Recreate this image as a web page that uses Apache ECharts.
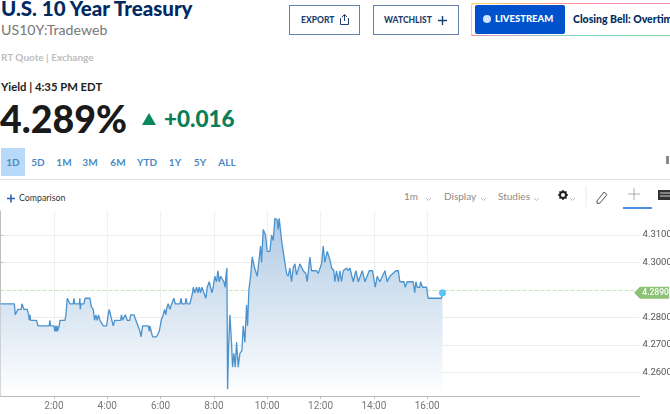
<!DOCTYPE html>
<html>
<head>
<meta charset="utf-8">
<script src="https://cdn.jsdelivr.net/npm/echarts@6/dist/echarts.min.js"></script>
<style>
html, body { margin: 0; padding: 0; background: #fff; }
body { width: 670px; height: 414px; overflow: hidden; position: relative; font-family: Lato, sans-serif; }
.t { position: absolute; white-space: nowrap; line-height: 1; }
.btn { position: absolute; top: 5px; height: 28px; border: 1px solid #5f81aa; box-sizing: content-box; }
.tab { position: absolute; top: 157px; width: 30px; margin-left: -15px; text-align: center; font-size: 10px; font-weight: 700; color: #4a8ac4; line-height: 1; }
.menu { position: absolute; top: 191px; font-size: 10px; color: #8a8a8a; line-height: 1; white-space: nowrap; }
svg { position: absolute; overflow: visible; }
#chart { position: absolute; left: 0; top: 205px; width: 670px; height: 209px; }
</style>
</head>
<body>
<div class="t" style="left:1px;top:-2px;font-size:20.5px;font-weight:900;color:#012a62">U.S. 10 Year Treasury</div>
<div class="t" style="left:1px;top:23px;font-size:14.2px;color:#777">US10Y:Tradeweb</div>
<div class="t" style="left:1px;top:52px;font-size:10px;font-weight:700;color:#bdbdbd">RT Quote | Exchange</div>
<div class="t" style="left:1px;top:81px;font-size:11.3px;font-weight:700;color:#222">Yield | 4:35 PM EDT</div>
<div class="t" style="left:0;top:100px;font-size:37.5px;font-weight:900;color:#1a1a1a">4.289%</div>
<svg style="left:0;top:0" width="1" height="1"><path d="M142 125 L149 113 L156 125 Z" fill="#0a8a5c"/></svg>
<div class="t" style="left:164px;top:108px;font-size:22.5px;font-weight:900;color:#0b7e58">+0.016</div>

<div style="position:absolute;left:1px;top:148px;width:24px;height:28px;background:#b8d9f8"></div>
<div class="tab" style="left:13px">1D</div>
<div class="tab" style="left:38px">5D</div>
<div class="tab" style="left:64px">1M</div>
<div class="tab" style="left:90px">3M</div>
<div class="tab" style="left:118px">6M</div>
<div class="tab" style="left:147px">YTD</div>
<div class="tab" style="left:175px">1Y</div>
<div class="tab" style="left:200px">5Y</div>
<div class="tab" style="left:227px">ALL</div>
<div style="position:absolute;left:0;top:179px;width:670px;height:1px;background:#dedede"></div>

<div class="btn" style="left:289px;width:69px"></div>
<div class="t" style="left:301px;top:16px;font-size:8.5px;font-weight:900;color:#1f3f6e">EXPORT</div>
<svg style="left:0;top:0" width="1" height="1"><path d="M340.5 18 V24.5 H348.5 V18 M344.5 21 V14.5 M342 17 L344.5 14.5 L347 17" fill="none" stroke="#1f3f6e" stroke-width="1"/></svg>
<div class="btn" style="left:373px;width:84px"></div>
<div class="t" style="left:384px;top:16px;font-size:8.5px;font-weight:900;color:#1f3f6e">WATCHLIST</div>
<svg style="left:0;top:0" width="1" height="1"><path d="M442.5 16 V25 M438 20.5 H447" fill="none" stroke="#1f3f6e" stroke-width="1.4"/></svg>

<div style="position:absolute;left:471px;top:3px;width:205px;height:33px;border-radius:3px;padding:1px;box-sizing:border-box;background:linear-gradient(100deg,#ffcf5c,#ff8f9f 50%,#e98fc0);"><div style="width:100%;height:100%;background:#fff;border-radius:2px"></div></div>
<div style="position:absolute;left:471px;top:35px;width:199px;height:1px;background:linear-gradient(90deg,#e98fc0,#7fd4c4 50%,#8fdc9c)"></div>
<div style="position:absolute;left:475px;top:5px;width:90px;height:29px;background:#0052cc;border-radius:2px"></div>
<div style="position:absolute;left:483px;top:15px;width:8px;height:8px;border-radius:50%;background:#cfe2ff"></div>
<div class="t" style="left:495px;top:14px;font-size:9.5px;font-weight:900;color:#fff">LIVESTREAM</div>
<div class="t" style="left:573px;top:14px;font-size:10.5px;font-weight:900;color:#012a62">Closing Bell: Overtime</div>

<svg style="left:0;top:0" width="1" height="1">
  <path d="M7 198.5 H15 M11 194.5 V202.5" stroke="#2b62b8" stroke-width="1.6" fill="none"/>
  <path d="M426 198 L428.5 200.5 L431 198 M481 198 L483.5 200.5 L486 198 M534 198 L536.5 200.5 L539 198 M570 198 L572.5 200.5 L575 198" stroke="#aaa" stroke-width="0.8" fill="none"/>
  <circle cx="563" cy="195" r="3" fill="none" stroke="#222" stroke-width="2"/>
  <path d="M563 190 V192 M563 198 V200 M558 195 H560 M566 195 H568 M559.5 191.5 L560.8 192.8 M566.5 191.5 L565.2 192.8 M559.5 198.5 L560.8 197.2 M566.5 198.5 L565.2 197.2" stroke="#222" stroke-width="1.5"/>
  <path d="M586 186 V207" stroke="#e8e8e8"/>
  <path d="M597 201 L604 192 L607 194.5 L600 203 L597 203.5 Z" fill="none" stroke="#444" stroke-width="0.9"/>
  <path d="M634 188 V200 M628 194 H640" stroke="#999" stroke-width="0.8" fill="none"/>
  <path d="M658 190 H670 V200 H658 Z" fill="#333"/>
  <path d="M660 193 H670 M660 196 H670" stroke="#fff" stroke-width="0.8"/>
  <path d="M666 156 V164 H669 V156 Z" fill="#888"/>
</svg>
<div style="position:absolute;left:623px;top:207px;width:29px;height:2px;background:#4d8fe0"></div>
<div class="menu" style="left:19px;top:194px;font-size:8.8px;color:#333">Comparison</div>
<div class="menu" style="left:404px">1m</div>
<div class="menu" style="left:444px">Display</div>
<div class="menu" style="left:498px">Studies</div>

<div id="chart"></div>
<script>
// minutes since midnight
const times = [
  0, 31, 33, 37.5, 39, 46.5, 48, 51, 52.5, 60, 63, 64.5, 66, 67.5, 81, 84, 109.5, 111, 112.5, 120,
  122, 124, 125, 127, 128, 130, 132, 133.5, 145, 147, 150, 154.5, 156, 163.5, 165, 167, 177, 178.5,
  179, 181, 187.5, 190, 201, 204, 208.5, 211.5, 214.5, 217.5, 220.5, 223.5, 231, 238.5, 242, 244.5,
  247.5, 250.5, 253.5, 257, 270, 272, 274.5, 279, 280.5, 285, 291, 292.5, 300, 304.5, 309, 313.5,
  316, 319.5, 332, 335, 336, 340, 342, 351, 357, 361.5, 366, 369, 372, 373.5, 377, 381, 385, 390,
  393, 403.5, 406, 408, 415.5, 417, 420, 426, 429, 432, 433.5, 437, 441, 444, 447, 450, 453, 457.5,
  462, 465, 469.5, 472.5, 475.5, 478.5, 482, 486, 489, 492, 495, 499.5, 502.5, 505.5, 507, 509.25,
  510.75, 513, 516, 519.75, 522, 525, 528, 531, 534.75, 538.5, 543, 546, 549.75, 553.5, 555.75,
  558.75, 562.5, 566.25, 570.75, 573.75, 577.5, 582, 585, 587.25, 591, 596.25, 600, 606, 609.75,
  613.5, 617.25, 622.5, 624.75, 627, 632.25, 636, 639.75, 643.5, 647.25, 651, 654.75, 658.5, 662.25,
  666, 673.5, 681, 687, 690, 696, 699.75, 711, 714.75, 722.25, 726, 729.75, 735, 741, 745, 750, 752,
  756, 760, 763.5, 767, 771, 778.5, 782, 786, 793.5, 799.5, 805, 814, 820, 829.5, 837, 843, 847.5,
  853.5, 865, 870, 876, 889.5, 895, 898.5, 907.5, 910.5, 915, 928.5, 932, 934.5, 937.5, 943.5, 945,
  949.5, 958.5, 962, 970, 992, 994.5
];
const yields = [
  4.285, 4.285, 4.281, 4.281, 4.283, 4.283, 4.285, 4.285, 4.283, 4.283, 4.281, 4.279, 4.281, 4.279, 4.279, 4.277, 4.277, 4.279, 4.277, 4.277,
  4.275, 4.277, 4.275, 4.277, 4.275, 4.275, 4.277, 4.279, 4.279, 4.281, 4.287, 4.287, 4.285, 4.285, 4.287, 4.285, 4.285, 4.287,
  4.283, 4.285, 4.285, 4.287, 4.287, 4.284, 4.283, 4.279, 4.281, 4.279, 4.281, 4.279, 4.277, 4.277, 4.281, 4.283,
  4.281, 4.281, 4.277, 4.279, 4.279, 4.281, 4.279, 4.279, 4.281, 4.279, 4.279, 4.281, 4.281, 4.279, 4.277, 4.275,
  4.273, 4.277, 4.277, 4.275, 4.277, 4.277, 4.273, 4.273, 4.275, 4.279, 4.281, 4.283, 4.281, 4.283, 4.285, 4.283, 4.285, 4.287,
  4.285, 4.285, 4.287, 4.285, 4.285, 4.287, 4.285, 4.285, 4.287, 4.289, 4.291, 4.289, 4.291, 4.289, 4.291, 4.289, 4.291, 4.289,
  4.287, 4.291, 4.293, 4.291, 4.289, 4.291, 4.295, 4.293, 4.297, 4.293, 4.295, 4.295, 4.293, 4.291, 4.295, 4.298,
  4.254, 4.2687, 4.281, 4.2705, 4.262, 4.267, 4.262, 4.271, 4.262, 4.267, 4.268, 4.277, 4.271, 4.2845, 4.277,
  4.29, 4.295, 4.302, 4.2985, 4.297, 4.295, 4.295, 4.306, 4.3, 4.312, 4.31, 4.304, 4.304, 4.31,
  4.308, 4.316, 4.3155, 4.312, 4.316, 4.308, 4.304, 4.304, 4.296, 4.295, 4.298, 4.293, 4.298, 4.2995,
  4.2955, 4.2995, 4.297, 4.296, 4.293, 4.302, 4.297, 4.297, 4.296, 4.2995, 4.306, 4.3, 4.304, 4.301, 4.298, 4.297, 4.293,
  4.297, 4.293, 4.297, 4.293, 4.297, 4.298, 4.297, 4.298, 4.293, 4.297, 4.293, 4.297, 4.293, 4.297, 4.297, 4.291, 4.295,
  4.293, 4.297, 4.293, 4.295, 4.297, 4.297, 4.293, 4.293, 4.291, 4.293, 4.293, 4.289, 4.293, 4.291, 4.291, 4.293,
  4.291, 4.291, 4.287, 4.287, 4.287, 4.289
];
const xTicks = [120, 240, 360, 480, 600, 720, 840, 960];
const yTicks = [4.26, 4.27, 4.28, 4.3, 4.31];
const lastYield = 4.289;
const xMax = 1438;

const chart = echarts.init(document.getElementById("chart"));

chart.setOption({
  animation: false,
  grid: { left: 0.6, top: 6, width: 639, height: 185, outerBoundsMode: "none" },
  xAxis: {
    type: "value",
    min: 0,
    max: xMax,
    axisLine: { lineStyle: { color: "#bdbdbd" } },
    axisTick: { length: 3, lineStyle: { color: "#bdbdbd" }, customValues: xTicks },
    axisLabel: {
      color: "#777",
      fontFamily: "Roboto",
      fontSize: 10,
      margin: 5,
      customValues: xTicks,
      formatter: (v) => v / 60 + ":00",
    },
    splitLine: { show: true, lineStyle: { color: "#f0f0f0" } },
  },
  yAxis: {
    type: "value",
    position: "right",
    min: 4.2515,
    max: 4.3187,
    axisLine: { show: true, lineStyle: { color: "#bdbdbd" } },
    axisTick: { show: true, length: 3, lineStyle: { color: "#bdbdbd" }, customValues: yTicks },
    axisLabel: {
      color: "#555",
      fontFamily: "Roboto",
      fontSize: 9.5,
      margin: 3,
      customValues: yTicks,
      formatter: (v) => v.toFixed(4),
    },
    splitLine: { show: true, lineStyle: { color: "#ebebeb" } },
  },
  series: [
    {
      type: "line",
      z: 3,
      symbol: "none",
      clip: false,
      data: times.map((t, i) => [t, yields[i]]),
      lineStyle: { color: "#4a93cf", width: 1.3 },
      areaStyle: {
        origin: "start",
        opacity: 1,
        color: new echarts.graphic.LinearGradient(0, 0, 0, 1, [
          { offset: 0, color: "#b0cae4" },
          { offset: 1, color: "#ffffff" },
        ]),
      },
      markLine: {
        z: 1,
        silent: true,
        symbol: "none",
        label: { show: false },
        lineStyle: { color: "#c6e8b6", type: "dashed", width: 1 },
        data: [{ yAxis: lastYield }],
      },
      markPoint: {
        silent: true,
        data: [
          {
            coord: [times[times.length - 1], lastYield],
            symbol: "circle",
            symbolSize: 7,
            itemStyle: { color: "#55c5f5" },
            label: { show: false },
          },
          {
            coord: [xMax, lastYield],
            symbol: "path://M0 6 L6 0 H36 V12 H6 Z",
            symbolSize: [35, 12],
            symbolOffset: [12, 0],
            itemStyle: { color: "#8cc176" },
            label: {
              show: true,
              position: "inside",
              color: "#fff",
              fontFamily: "Roboto",
              fontSize: 8.5,
              fontWeight: 500,
              offset: [4, 0],
              formatter: () => lastYield.toFixed(4),
            },
          },
        ],
      },
    },
  ],
});
</script>
</body>
</html>
